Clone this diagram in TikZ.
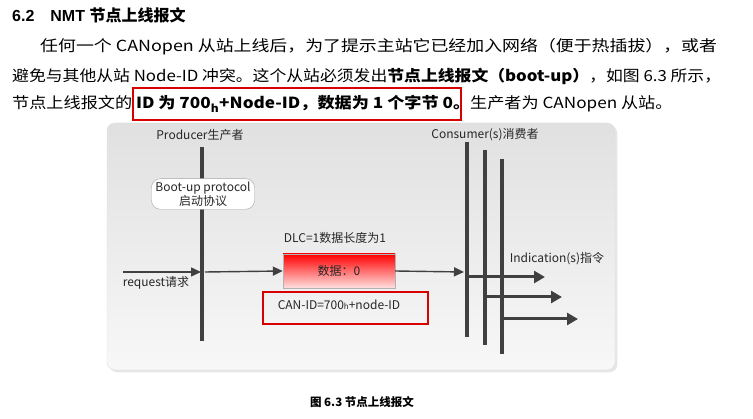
\documentclass[tikz,border=0pt]{standalone}
\usepackage{fontspec}
\setmainfont{Liberation Serif}
\newfontfamily\cjk{Noto Sans CJK SC}
\newfontfamily\dsans{Liberation Sans}
\usetikzlibrary{arrows.meta,shadows}
\definecolor{ink}{HTML}{404040}
\begin{document}
\begin{tikzpicture}[x=1pt,y=-1pt,
  lab/.style={font=\cjk\fontsize{12}{14}\selectfont,text=black!85,inner sep=0},
  para/.style={font=\cjk\fontsize{15.3}{17}\selectfont,anchor=west,inner sep=0},
  life/.style={line width=3.2pt,draw=ink},
  msg/.style={line width=1.4pt,draw=ink,-{Triangle[length=10pt,width=9pt]}},
  ind/.style={line width=3pt,draw=ink,-{Triangle[length=11pt,width=12pt]}},
  redbox/.style={draw=red!85!black,line width=1.5pt}]
\useasboundingbox (0,0) rectangle (753,419);
\node[anchor=west,inner sep=0,font=\dsans\bfseries\fontsize{16}{18}\selectfont] (h) at (12,15) {6.2\quad NMT {\cjk 节点上线报文}};
\node[para,xscale=1.17] (l1) at (40,47) {任何一个 CANopen 从站上线后，为了提示主站它已经加入网络（便于热插拔），或者};
\node[para,xscale=1.10] (l2) at (12,76) {避免与其他从站 Node-ID 冲突。这个从站必须发出\textbf{节点上线报文（boot-up）}，如图 6.3 所示，};
\node[para,xscale=1.12] (l3) at (12,104) {节点上线报文的 \textbf{ID 为 700\textsubscript{h}+Node-ID，数据为 1 个字节 0。}生产者为 CANopen 从站。};
\draw[redbox] (133,88) rectangle (461,120);
% diagram frame
\path[rounded corners=8pt,top color=gray!24,bottom color=gray!6,draw=gray!25,drop shadow={opacity=0.2}] (107,123) rectangle (615,370);
\node[lab] (prod) at (200,135) {Producer生产者};
\node[lab] (cons) at (485,135) {Consumer(s)消费者};
\draw[life] (202,147) -- (202,341);
\node[lab,draw=gray!70,fill=white,rounded corners=9pt,inner xsep=4pt,inner ysep=3pt,align=center,font=\cjk\fontsize{12}{14}\selectfont] (boot) at (203,194) {Boot-up protocol\\启动协议};
\coordinate (rq) at (123,272);
\coordinate (pa) at (201,272);
\coordinate (pb) at (205,272);
\node[lab,minimum width=112pt,minimum height=34pt,top color=red,bottom color=red!12,draw=gray!60] (data) at (339,271) {数据：0};
\coordinate (c1a) at (467,272);
\draw[msg] (rq) -- (pa);
\draw[msg] (pb) -- (data.west);
\draw[msg] (data.east) -- ([xshift=-3pt]c1a);
\node[lab] (req) at (156,283) {request请求};
\node[lab] (dlc) at (335,238) {DLC=1数据长度为1};
\node[lab] (canid) at (339,305) {CAN-ID=700{\fontsize{8}{9}\selectfont h}+node-ID};
\draw[redbox] (263,292) rectangle (428,324);
\draw[life] (467,142) coordinate (k1) -- (467,337);
\draw[life] (485,150) coordinate (k2) -- (485,345);
\draw[life] (502,159) coordinate (k3) -- (502,354);
\coordinate (i1) at (467,277); \coordinate (i2) at (485,297); \coordinate (i3) at (502,319);
\draw[ind] (i1) -- (545,277);
\draw[ind] (i2) -- (562,297);
\draw[ind] (i3) -- (578,319);
\node[lab] (indl) at (557,259) {Indication(s)指令};
\node[inner sep=0,font=\cjk\bfseries\fontsize{11.5}{13}\selectfont] (cap) at (362,402) {图 6.3 节点上线报文};
\end{tikzpicture}
\end{document}
